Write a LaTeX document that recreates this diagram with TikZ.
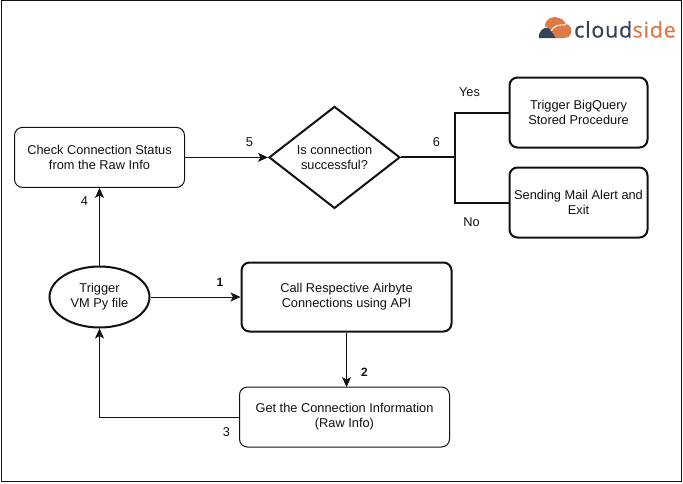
\documentclass[tikz,border=0pt]{standalone}
\usepackage{fontspec}
\setmainfont{Liberation Sans}
\newfontfamily\logofont[LetterSpace=3.5,FakeBold=0.6]{Open Sans}
\usetikzlibrary{shapes.geometric,arrows.meta}
\definecolor{ink}{HTML}{111111}
\definecolor{logoorange}{HTML}{DD7A45}
\definecolor{logonavy}{HTML}{34435A}
\tikzset{
 every node/.style={font=\fontsize{12.8}{15.2}\selectfont,text=ink,align=center,inner sep=0pt},
 thinbox/.style={draw=ink,line width=1pt,rounded corners=8pt,fill=white},
 thickbox/.style={draw=ink,line width=2pt,rounded corners=8pt,fill=white},
 link/.style={draw=ink,line width=0.9pt,-{Stealth[length=10pt,width=9pt,inset=2.5pt]}},
 plain/.style={draw=ink,line width=2pt},
 boldlabel/.style={font=\bfseries\fontsize{12}{15}\selectfont}
}
\begin{document}
\begin{tikzpicture}[x=1pt,y=-1pt]
\useasboundingbox (0,0) rectangle (683,483);
\fill[white] (0,0) rectangle (683,483);
\node[draw=ink,line width=1pt,minimum width=680pt,minimum height=480.5pt] (frame) at (341.5,241) {};
% logo
\fill[logonavy] (539,38) .. controls (538,31) and (544,26) .. (550,28) -- (556,38) -- cycle;
\fill[logoorange] (545,26) .. controls (545,19) and (553,15) .. (559,18) .. controls (563,19) and (565,22) .. (566,24) .. controls (571,25) and (572,30) .. (571,33) .. controls (570,37) and (567,38) .. (564,38) -- (556,38) .. controls (553,33) and (550,28) .. (545,26) -- cycle;
\draw[white,line width=1pt] (551,31) .. controls (553,26) and (560,24) .. (566,25);
\node[anchor=base west,font=\logofont\fontsize{21.5}{22}\selectfont,text=logonavy] (logoa) at (574,37.5) {cloud};
\node[anchor=base west,font=\logofont\fontsize{21.5}{22}\selectfont,text=logoorange] (logob) at (logoa.base east) {side};
% nodes
\node[thinbox,minimum width=170pt,minimum height=60pt] (check) at (99.5,157.4) {Check Connection Status\\from the Raw Info};
\node[draw=ink,line width=2pt,diamond,aspect=2.55,inner sep=-9pt,minimum width=131pt,minimum height=102pt] (dec) at (334.5,157.4) {Is connection\\successful?};
\node[thickbox,minimum width=138pt,minimum height=70pt] (bq) at (578.5,112.5) {Trigger BigQuery\\Stored Procedure};
\node[thickbox,minimum width=138pt,minimum height=70pt] (mail) at (578.5,202.5) {Sending Mail Alert and\\Exit};
\node[draw=ink,line width=2pt,ellipse,minimum width=100pt,minimum height=61pt] (vm) at (99.5,297) {Trigger\\VM Py file};
\node[thickbox,minimum width=210pt,minimum height=69pt] (call) at (346.5,297) {Call Respective Airbyte\\Connections using API};
\node[thinbox,minimum width=210pt,minimum height=60pt] (get) at (344.5,417) {Get the Connection Information\\(Raw Info)};
\coordinate (split) at (454.5,157.4);
\coordinate (gettop) at (346.5,387);
% connectors
\draw[link] (check.east) -- (dec.west);
\draw[link] (vm.north) -- (check.south);
\draw[link] (vm.east) -- (call.west);
\draw[link] (call.south) -- (gettop);
\draw[link] (get.west) -| (vm.south);
\draw[plain] (dec.east) -- (split);
\draw[plain] (bq.west) -| (split);
\draw[plain] (mail.west) -| (split);
% labels
\node[boldlabel] (l1) at (220,282) {1};
\node[boldlabel] (l2) at (364.5,372) {2};
\node (l3) at (226.5,432) {3};
\node (l4) at (84.5,201) {4};
\node (l5) at (249.5,142) {5};
\node (l6) at (436.5,142) {6};
\node (yes) at (469.5,92) {Yes};
\node (no) at (471.5,222) {No};
\end{tikzpicture}
\end{document}
